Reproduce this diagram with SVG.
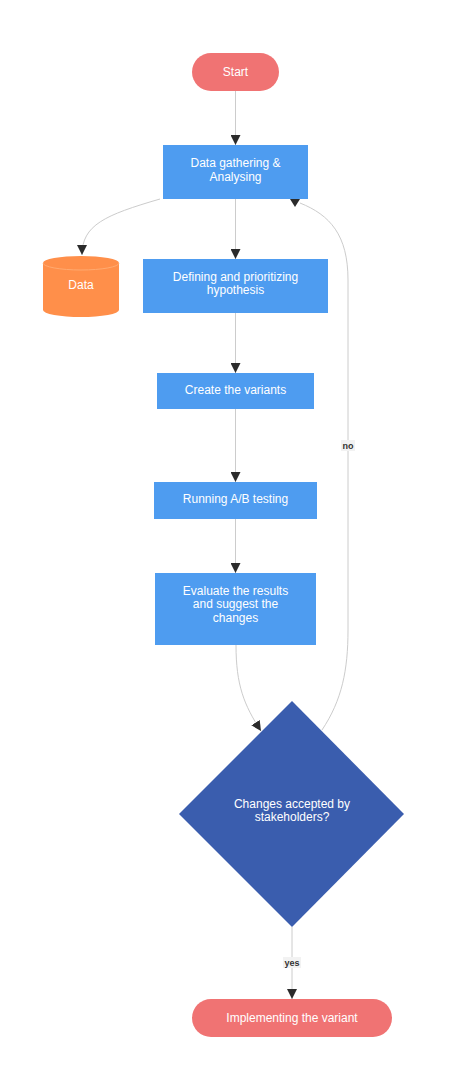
<svg xmlns="http://www.w3.org/2000/svg" width="474" height="1080" viewBox="0 0 474 1080">
<style>
.bg{fill:#ffffff}
.term{fill:#F07373}
.proc{fill:#4E9CF0}
.dec{fill:#3A5DAE}
.cyl{fill:#FF8F4A}
.cylline{fill:none;stroke:#FFAA70;stroke-width:1}
.t{font-family:"Liberation Sans",Arial,sans-serif;font-size:12px;fill:#ffffff;text-anchor:middle}
.edge{fill:none;stroke:#cccccc;stroke-width:1}
.lblbg{fill:#f2f2f2}
.lbl{font-family:"Liberation Sans",Arial,sans-serif;font-size:9px;font-weight:bold;fill:#333333;text-anchor:middle}
.ah{fill:#2b2b2b}
</style>
<defs>
<marker id="arr" markerUnits="userSpaceOnUse" markerWidth="10" markerHeight="10" viewBox="0 0 10 10" refX="10" refY="5" orient="auto">
<path d="M0,0 L10,5 L0,10 z" fill="#2b2b2b"/>
</marker>
</defs>
<rect class="bg" x="0" y="0" width="474" height="1080"/>
<g id="connectors">
<path class="edge" d="M235.5,91 L235.5,145" marker-end="url(#arr)"/>
<path class="edge" d="M235.5,199 L235.5,259" marker-end="url(#arr)"/>
<path class="edge" d="M160,199 C105,215 82,225 82,255" marker-end="url(#arr)"/>
<path class="edge" d="M235.5,313 L235.5,373" marker-end="url(#arr)"/>
<path class="edge" d="M235.5,409 L235.5,482" marker-end="url(#arr)"/>
<path class="edge" d="M235.5,519 L235.5,573" marker-end="url(#arr)"/>
<path class="edge" d="M236,645 C236,685 244,705 261,731" marker-end="url(#arr)"/>
<path class="edge" d="M322,730 C342,700 348,670 348,630 L348,280 C348,235 330,215 300,203"/>
<polygon class="ah" points="290,199 300,199 295,207"/>
<path class="edge" d="M292,927 L292,999" marker-end="url(#arr)"/>
<g id="label-no">
<rect class="lblbg" x="341" y="440" width="14" height="11"/>
<text class="lbl" x="348" y="449">no</text>
</g>
<g id="label-yes">
<rect class="lblbg" x="283" y="957" width="18" height="11"/>
<text class="lbl" x="292" y="966">yes</text>
</g>
</g>
<g id="start">
<rect class="term" x="192" y="53" width="87" height="38" rx="19" ry="19"/>
<text class="t" x="235.5" y="76">Start</text>
</g>
<g id="data-gathering">
<rect class="proc" x="163" y="145" width="145" height="54"/>
<text class="t" x="235.5" y="167">Data gathering &amp;</text>
<text class="t" x="235.5" y="181">Analysing</text>
</g>
<g id="data">
<path class="cyl" d="M43,263 A38,7 0 0 1 119,263 L119,310 A38,7 0 0 1 43,310 Z"/>
<path class="cylline" d="M43,263 A38,7 0 0 0 119,263"/>
<text class="t" x="81" y="289">Data</text>
</g>
<g id="defining">
<rect class="proc" x="143" y="259" width="185" height="54"/>
<text class="t" x="235.5" y="281">Defining and prioritizing</text>
<text class="t" x="235.5" y="294">hypothesis</text>
</g>
<g id="create">
<rect class="proc" x="157" y="373" width="157" height="36"/>
<text class="t" x="235.5" y="394">Create the variants</text>
</g>
<g id="running">
<rect class="proc" x="154" y="482" width="163" height="37"/>
<text class="t" x="235.5" y="503">Running A/B testing</text>
</g>
<g id="evaluate">
<rect class="proc" x="155" y="573" width="161" height="72"/>
<text class="t" x="235.5" y="595">Evaluate the results</text>
<text class="t" x="235.5" y="608">and suggest the</text>
<text class="t" x="235.5" y="622">changes</text>
</g>
<g id="decision">
<polygon class="dec" points="292,701 404,814 292,927 179,814"/>
<text class="t" x="292" y="808">Changes accepted by</text>
<text class="t" x="292" y="821">stakeholders?</text>
</g>
<g id="implementing">
<rect class="term" x="192" y="999" width="200" height="38" rx="19" ry="19"/>
<text class="t" x="292" y="1022">Implementing the variant</text>
</g>
</svg>
